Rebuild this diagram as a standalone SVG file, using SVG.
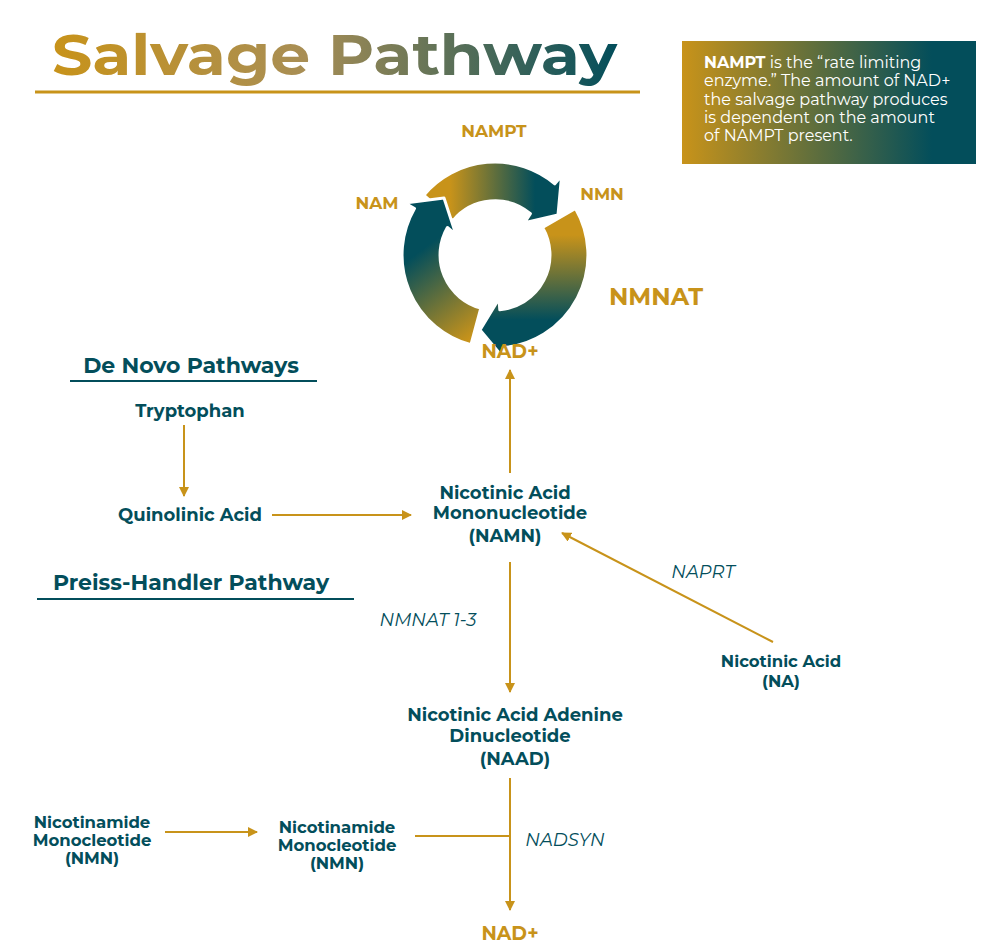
<svg xmlns="http://www.w3.org/2000/svg" width="1000" height="943" viewBox="0 0 1000 943">
<style>
.n{font-family:Montserrat,"Open Sans","Liberation Sans",sans-serif;font-weight:bold;fill:#034E5B;font-size:18px;text-anchor:middle}
.s{font-size:16.5px}
.g{font-family:Montserrat,"Open Sans","Liberation Sans",sans-serif;font-weight:bold;fill:#C8931A;text-anchor:middle}
.h{font-family:Montserrat,"Open Sans","Liberation Sans",sans-serif;font-weight:bold;fill:#034E5B;font-size:22px;text-anchor:middle}
.e{font-family:Montserrat,"Open Sans","Liberation Sans",sans-serif;font-style:italic;fill:#034E5B;font-size:18px;text-anchor:middle}
.b{font-family:Montserrat,"Open Sans","Liberation Sans",sans-serif;fill:#fff;font-size:16px}
.c{stroke:#C8931A;stroke-width:2;fill:none}
.a{stroke:#fff;stroke-width:3;stroke-linejoin:round}
</style>
<defs>
<linearGradient id="tg" x1="52" y1="0" x2="617" y2="0" gradientUnits="userSpaceOnUse"><stop offset="0" stop-color="#C8931A"/><stop offset="0.45" stop-color="#A88E55"/><stop offset="1" stop-color="#034E5B"/></linearGradient>
<linearGradient id="bg" x1="682" y1="0" x2="976" y2="0" gradientUnits="userSpaceOnUse"><stop offset="0" stop-color="#C8931A"/><stop offset="0.85" stop-color="#034E5B"/></linearGradient>
<linearGradient id="g1" x1="450" y1="0" x2="535" y2="0" gradientUnits="userSpaceOnUse"><stop offset="0" stop-color="#C8931A"/><stop offset="1" stop-color="#034E5B"/></linearGradient>
<linearGradient id="g2" x1="0" y1="235" x2="0" y2="320" gradientUnits="userSpaceOnUse"><stop offset="0" stop-color="#C8931A"/><stop offset="1" stop-color="#034E5B"/></linearGradient>
<linearGradient id="g3" x1="475" y1="335" x2="415" y2="255" gradientUnits="userSpaceOnUse"><stop offset="0" stop-color="#C8931A"/><stop offset="1" stop-color="#034E5B"/></linearGradient>
<marker id="ar" viewBox="0 0 10 10" refX="9" refY="5" markerWidth="5" markerHeight="5" orient="auto" markerUnits="strokeWidth"><path d="M0,0 L10,5 L0,10 z" fill="#C8931A"/></marker>
</defs>
<g id="title">
<text x="52" y="75" font-family="Montserrat,'Open Sans','Liberation Sans',sans-serif" font-weight="bold" font-size="56" fill="url(#tg)" textLength="565" lengthAdjust="spacingAndGlyphs">Salvage Pathway</text>
<line x1="35" y1="92" x2="640" y2="92" stroke="#C8931A" stroke-width="3"/>
</g>
<g id="note">
<rect x="682" y="41" width="294" height="123" fill="url(#bg)"/>
<text class="b" x="704" y="68"><tspan font-weight="bold">NAMPT</tspan> is the “rate limiting</text>
<text class="b" x="704" y="86">enzyme.” The amount of NAD+</text>
<text class="b" x="704" y="105">the salvage pathway produces</text>
<text class="b" x="704" y="123">is dependent on the amount</text>
<text class="b" x="704" y="141">of NAMPT present.</text>
</g>
<g id="cycle">
<path class="a" fill="url(#g1)" d="M423.8,195.2 A93,93 0 0 1 554.8,183.8 L561.6,175.7 L558,215 L524.6,222.6 L530.4,213.6 A55,55 0 0 0 452.9,220.6 Z"/>
<path class="a" fill="url(#g2)" d="M575.5,208.5 A93,93 0 0 1 503.1,347.6 L504.1,358.6 L480,330 L499,298.8 L499.8,309.8 A55,55 0 0 0 542.6,227.5 Z"/>
<path class="a" fill="url(#g3)" d="M470.9,344.8 A93,93 0 0 1 414.5,208.5 L405,203 L444,198 L456.1,235 L447.4,227.5 A55,55 0 0 0 480.8,308.1 Z"/>
</g>
<g id="cycle-labels">
<text class="g" x="494" y="137" font-size="17">NAMPT</text>
<text class="g" x="377" y="209" font-size="17">NAM</text>
<text class="g" x="602" y="200" font-size="17">NMN</text>
<text class="g" x="656" y="305" font-size="24">NMNAT</text>
<text class="g" x="510" y="358" font-size="19">NAD+</text>
</g>
<g id="headings">
<text class="h" x="191" y="373">De Novo Pathways</text>
<line x1="70" y1="381" x2="317" y2="381" stroke="#034E5B" stroke-width="2"/>
<text class="h" x="191" y="590">Preiss-Handler Pathway</text>
<line x1="37" y1="599" x2="354" y2="599" stroke="#034E5B" stroke-width="2"/>
</g>
<g id="tryptophan"><text class="n" x="190" y="417">Tryptophan</text></g>
<g id="quinolinic"><text class="n" x="190" y="521">Quinolinic Acid</text></g>
<g id="namn"><text class="n" x="505" y="499">Nicotinic Acid</text><text class="n" x="510" y="519">Mononucleotide</text><text class="n" x="505" y="542">(NAMN)</text></g>
<g id="na"><text class="n s" x="781" y="667">Nicotinic Acid</text><text class="n s" x="781" y="687">(NA)</text></g>
<g id="naad"><text class="n" x="515" y="721">Nicotinic Acid Adenine</text><text class="n" x="510" y="742">Dinucleotide</text><text class="n" x="515" y="765">(NAAD)</text></g>
<g id="nmn1"><text class="n s" x="92" y="828">Nicotinamide</text><text class="n s" x="92" y="846">Monocleotide</text><text class="n s" x="92" y="864">(NMN)</text></g>
<g id="nmn2"><text class="n s" x="337" y="833">Nicotinamide</text><text class="n s" x="337" y="851">Monocleotide</text><text class="n s" x="337" y="869">(NMN)</text></g>
<g id="nad"><text class="g" x="510" y="940" font-size="19">NAD+</text></g>
<g id="enzymes">
<text class="e" x="703" y="578">NAPRT</text>
<text class="e" x="428" y="626">NMNAT 1-3</text>
<text class="e" x="565" y="846">NADSYN</text>
</g>
<g id="connectors">
<line class="c" x1="184" y1="425" x2="184" y2="496" marker-end="url(#ar)"/>
<line class="c" x1="272" y1="515" x2="411" y2="515" marker-end="url(#ar)"/>
<line class="c" x1="510" y1="473" x2="510" y2="370" marker-end="url(#ar)"/>
<line class="c" x1="773" y1="642" x2="562" y2="533" marker-end="url(#ar)"/>
<line class="c" x1="510" y1="562" x2="510" y2="692" marker-end="url(#ar)"/>
<line class="c" x1="510" y1="778" x2="510" y2="910" marker-end="url(#ar)"/>
<line class="c" x1="165" y1="832" x2="257" y2="832" marker-end="url(#ar)"/>
<line class="c" x1="415" y1="836" x2="510" y2="836"/>
</g>
</svg>
